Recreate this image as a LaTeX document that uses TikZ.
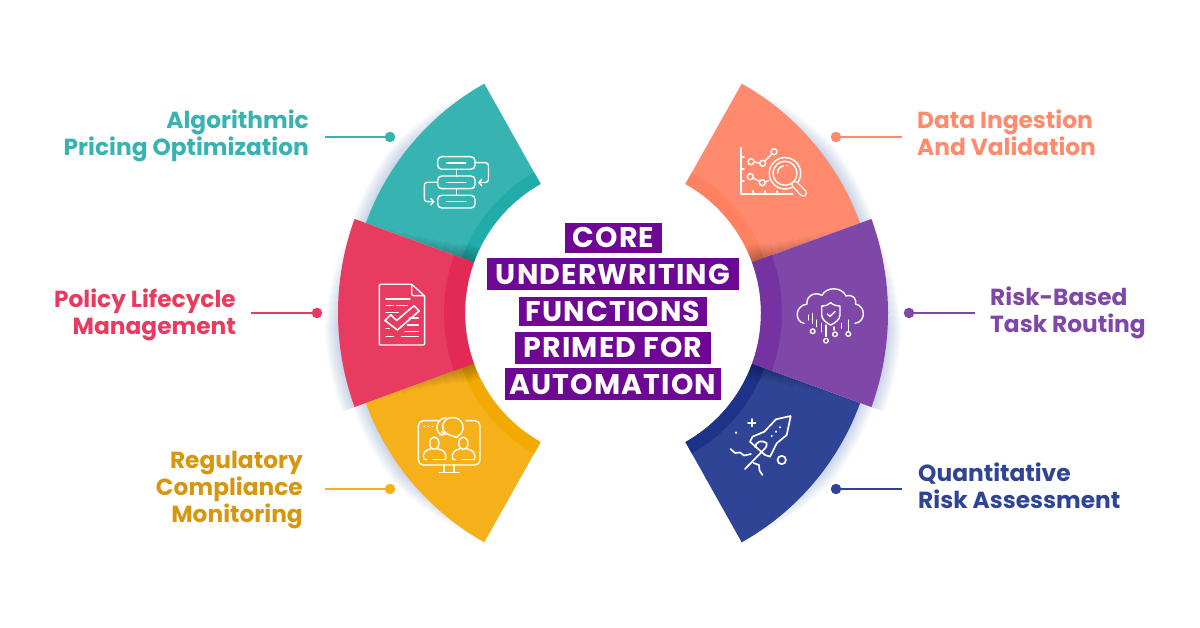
\documentclass[tikz,border=0pt]{standalone}
\usepackage{fontspec}
\setmainfont{Poppins}
\usetikzlibrary{arrows.meta}
\definecolor{tealA}{HTML}{37B3B1}\definecolor{tealB}{HTML}{21ACAA}
\definecolor{pinkA}{HTML}{E83B60}\definecolor{pinkB}{HTML}{E32A54}
\definecolor{yelA}{HTML}{F5B01A}\definecolor{yelB}{HTML}{F2A900}\definecolor{yelT}{HTML}{D6970F}
\definecolor{oraA}{HTML}{FF8A6E}\definecolor{oraB}{HTML}{FF8160}
\definecolor{purA}{HTML}{7F47A8}\definecolor{purB}{HTML}{7433A0}
\definecolor{bluA}{HTML}{2F4494}\definecolor{bluB}{HTML}{1D3289}
\definecolor{boxP}{HTML}{6F0795}\definecolor{shadowC}{HTML}{4A70C0}
\newcommand{\segpath}[4]{(#1:#3pt) arc[start angle=#1,end angle=#2,radius=#3pt] -- (#2:#4pt) arc[start angle=#2,end angle=#1,radius=#4pt] -- cycle}
% outer soft shadow: start, end, outer radius
\newcommand{\outshadow}[3]{%
  \foreach \w in {2,4,...,28}{%
    \draw[shadowC,opacity=0.018,line width=\w pt]
      ({#1+(#2-#1)*(\w/50)}:#3pt) arc[start angle={#1+(#2-#1)*(\w/50)},end angle=#2,radius=#3pt];}}
% full segment: start, end, R, band radius, colour, band colour, angle of the neighbour casting a shadow
\newcommand{\segm}[7]{%
  \fill[#5] \segpath{#1}{#2}{#3}{148};
  \fill[#6] \segpath{#1}{#2}{#4}{148};
  \begin{scope}
    \clip \segpath{#1}{#2}{#3}{148};
    \foreach \w/\rr in {4/240,8/225,12/210,16/195,20/182,24/172,28/165,32/160}{%
      \draw[black,opacity=0.035,line width=\w pt] (#7:146pt) -- (#7:\rr pt);}
  \end{scope}}
\tikzset{
  seglabel/.style={font=\fontsize{23.3}{27}\selectfont\bfseries,inner sep=0pt},
  titlebox/.style={fill=boxP,text=white,inner sep=0pt,text height=20pt,text depth=0pt,
     font=\fontsize{28.5}{30}\selectfont\bfseries\addfontfeature{LetterSpace=4}},
  dot/.style={circle,fill,inner sep=0pt,minimum size=10.5pt},
  lead/.style={line width=2pt},
  ico/.style={draw=white,line width=1.4pt,line cap=round,line join=round},
  barb/.style={-{Straight Barb[length=3pt,width=7pt,line width=1.4pt]}}
}
\begin{document}
\begin{tikzpicture}[x=1pt,y=1pt]
\useasboundingbox (0,0) rectangle (1200,627);
\fill[white] (0,0) rectangle (1200,627);
\begin{scope}[shift={(0,627)},yscale=-1]
% ------- segments
\begin{scope}[shift={(613,313)}]
  \outshadow{-119.3}{-160}{263}
  \outshadow{-60.7}{-20}{263}
  \outshadow{119.3}{160}{263}
  \outshadow{60.7}{20}{263}
  \outshadow{-160}{-200}{275}
  \outshadow{-20}{20}{275}
  \segm{-119.3}{-160}{263}{161}{tealA}{tealB}{-160}
  \segm{-60.7}{-20}{263}{161}{oraA}{oraB}{-20}
  \segm{119.3}{160}{263}{161}{yelA}{yelB}{160}
  \segm{60.7}{20}{263}{161}{bluA}{bluB}{20}
  \fill[pinkA] \segpath{-160}{-200}{275}{148};
  \fill[pinkB] \segpath{-160}{-200}{169}{148};
  \fill[purA] \segpath{-20}{20}{275}{148};
  \fill[purB] \segpath{-20}{20}{169}{148};
\end{scope}
% ------- title
\node[titlebox,minimum width=96.5pt,minimum height=30.5pt] (t1) at (613.5,238) {CORE};
\node[titlebox,minimum width=252.5pt,minimum height=32pt] (t2) at (613,274.3) {UNDERWRITING};
\node[titlebox,minimum width=188pt,minimum height=29.5pt] (t3) at (613,311.3) {FUNCTIONS};
\node[titlebox,minimum width=196.5pt,minimum height=32pt] (t4) at (613,347.7) {PRIMED FOR};
\node[titlebox,minimum width=215.5pt,minimum height=32pt] (t5) at (613,384.3) {AUTOMATION};
% ------- labels
\node[seglabel,tealA,align=right,anchor=east] (lalg) at (309,136) {Algorithmic\\Pricing Optimization};
\node[seglabel,pinkA,align=right,anchor=east] (lpol) at (236,315) {Policy Lifecycle\\Management};
\node[seglabel,yelT,align=right,anchor=east] (lreg) at (303,490) {Regulatory\\Compliance\\Monitoring};
\node[seglabel,oraA,align=left,anchor=west] (ldat) at (917,133) {Data Ingestion\\And Validation};
\node[seglabel,purA,align=left,anchor=west] (lrsk) at (990,313) {Risk-Based\\Task Routing};
\node[seglabel,bluA,align=left,anchor=west] (lqnt) at (918,486) {Quantitative\\Risk Assessment};
% ------- connectors
\node[dot,tealA] (da) at (390,137) {}; \coordinate (ca) at (325,137); \draw[lead,tealA] (ca) -- (da);
\node[dot,pinkA] (db) at (317,313) {}; \coordinate (cb) at (251,313); \draw[lead,pinkA] (cb) -- (db);
\node[dot,yelA] (dc) at (390,489) {}; \coordinate (cc) at (325,489); \draw[lead,yelA] (cc) -- (dc);
\node[dot,oraA] (dd) at (836,137) {}; \coordinate (cd) at (902,137); \draw[lead,oraA] (cd) -- (dd);
\node[dot,purA] (de) at (909,313) {}; \coordinate (ce) at (975,313); \draw[lead,purA] (ce) -- (de);
\node[dot,bluA] (df) at (836,489) {}; \coordinate (cf) at (902,489); \draw[lead,bluA] (cf) -- (df);
% ------- icon: flow chart
\begin{scope}[ico]
  \draw[rounded corners=4pt] (437.7,156.7) rectangle (475,169.3);
  \draw[rounded corners=4pt] (437.7,176) rectangle (475,188.7);
  \draw[rounded corners=4pt] (437.7,195.3) rectangle (475,208);
  \draw (446.7,163) -- (465.7,163); \draw (446.7,182.3) -- (465.7,182.3); \draw (446.7,201.7) -- (465.7,201.7);
  \draw (456.3,169.3) -- (456.3,176); \draw (456.3,188.7) -- (456.3,195.3);
  \draw[barb,rounded corners=3pt] (475,162.7) -- (488.5,162.7) -- (488.5,182.5) -- (478,182.5);
  \draw[barb,rounded corners=3pt] (437.7,182.3) -- (424.3,182.3) -- (424.3,201.7) -- (434.5,201.7);
\end{scope}
% ------- icon: document
\begin{scope}[ico]
  \draw[rounded corners=1pt] (411.7,284.3) -- (379.3,284.3) -- (379.3,345) -- (424.6,345) -- (424.6,296) -- cycle;
  \draw[rounded corners=2pt] (411.7,284.3) -- (411.7,295.7) -- (424.6,295.7);
  \draw (386,299) -- (410,299); \draw (386,305.7) -- (393.3,305.7); \draw (396.7,305.7) -- (407.3,305.7); \draw (386,312.3) -- (398.3,312.3);
  \draw[line width=1.6pt] (385,320.5) -- (390.7,314.8) -- (396.7,320.5) -- (414,305.7) -- (419.3,311) -- (397.3,330) -- cycle;
  \draw (409.3,318) -- (418.3,318); \draw (407.3,325) -- (418.3,325);
  \draw (386,328.3) -- (389.3,328.3); \draw (405,331.5) -- (418.3,331.5);
  \draw (386,336.5) -- (393.3,336.5); \draw (401.7,336.5) -- (418.3,336.5);
\end{scope}
% ------- icon: video call
\begin{scope}[ico]
  \draw[rounded corners=5pt] (438,420.7) -- (418.3,420.7) -- (418.3,465) -- (480,465) -- (480,420.7) -- (466,420.7);
  \draw (424,426.7) -- (424.5,426.7); \draw (428,426.7) -- (428.5,426.7); \draw (432,426.7) -- (432.5,426.7);
  \draw (444,465) -- (444,472.3); \draw (454,465) -- (454,472.3); \draw (439.3,472.3) -- (459,472.3);
  \draw (458,436) .. controls (466,432) and (465,418) .. (452.7,417.5)
        .. controls (441,417.5) and (439,432) .. (449.5,435) -- (456.7,437.5) -- cycle;
  \draw (446,417.5) .. controls (436,419) and (434,431) .. (441,434.5);
  \draw (441.5,431.5) -- (445,434.5) -- (440,435);
  \foreach \dx in {0,29}{
    \begin{scope}[xshift=\dx pt]
      \draw (434.3,443.3) ellipse[x radius=4.6pt,y radius=6.3pt];
      \draw (424,459.5) .. controls (422,452) and (426,450) .. (431,448.8);
      \draw (437.6,448.8) .. controls (443,450) and (447,452) .. (445.5,459.5);
      \draw (424,459.5) -- (426.5,459.5); \draw (433,459.5) -- (445.5,459.5);
    \end{scope}}
\end{scope}
% ------- icon: chart and magnifier
\begin{scope}[ico]
  \draw (741,147.7) -- (741,194) -- (792.7,194);
  \foreach \y in {157,169,181}{\draw (741,\y) -- (744,\y);}
  \foreach \x in {753,765,777}{\draw (\x,194) -- (\x,191);}
  \draw (751,161.7) circle[radius=3pt]; \draw (762.7,163.3) circle[radius=3pt]; \draw (774,151.7) circle[radius=3pt];
  \draw (750.3,176.7) circle[radius=3pt]; \draw (762.3,182.7) circle[radius=3pt];
  \draw (754,162) -- (759.7,163); \draw (764.8,161.1) -- (771.9,153.9);
  \draw (753,178) -- (759.6,181.4); \draw (765.3,182.3) -- (768.5,180.5);
  \draw (785,173.3) circle[radius=15.7pt]; \draw (785,173.3) circle[radius=12pt];
  \draw (777.5,173.5) .. controls (777.5,169) and (780,166.5) .. (783.5,166); \draw (787,165.8) -- (787.2,165.8);
  \draw[line width=7.4pt] (795,184.5) -- (803.3,193);
  \draw[oraA,line width=4.8pt] (795,184.5) -- (803.3,193);
\end{scope}
% ------- icon: cloud and shield
\begin{scope}[ico]
  \draw (804,323.3) .. controls (795,322) and (794,306) .. (807,304)
        .. controls (806,296) and (815,291) .. (822,295.5)
        .. controls (826,286.5) and (842,286.5) .. (846,296)
        .. controls (853,294) and (857,299) .. (855.5,304)
        .. controls (866,306) and (866,322) .. (855,323.3);
  \draw (821.7,306) .. controls (826,306) and (829,304.5) .. (830.7,302.7)
        .. controls (832.5,304.5) and (836,306) .. (840,306) -- (840,315)
        .. controls (840,319.5) and (835,323) .. (830.7,325)
        .. controls (826.5,323) and (821.7,319.5) .. (821.7,315) -- cycle;
  \draw (827.3,314) -- (830,316.3) -- (835,311.7);
  \draw (808.3,315) -- (808.3,320); \draw (812.5,313.5) -- (812.5,323.5); \draw (816.7,320) -- (816.7,326.7);
  \draw (821.7,323.3) -- (821.7,331.7); \draw (826,325) -- (826,336.5); \draw (834,327) -- (834,330);
  \draw (841.7,323.5) -- (841.7,328.3); \draw (848.3,320) -- (848.3,330.5);
  \draw (812.7,331.3) circle[radius=2.3pt]; \draw (826,340.7) circle[radius=2.3pt];
  \draw (835,334.3) circle[radius=2.3pt]; \draw (848.3,334) circle[radius=2.3pt];
\end{scope}
% ------- icon: rocket
\begin{scope}[ico,line width=1.7pt]
  \draw (790.7,416) -- (776,419.3) -- (764.3,431.7) -- (752.5,436.7) -- (750,441.7) -- (765,455) -- (770,456.7) -- (776.7,443.3) -- (786.7,435) -- cycle;
  \draw (755,447) .. controls (756,441.5) and (762,439.5) .. (766.5,443) .. controls (767.5,446) and (765,449) .. (763,450.5) -- (745,469);
  \draw (730.5,449) -- (735,453) -- (740,452.5) -- (744,455.5) -- (751,454);
  \draw (753.5,463) -- (759,465) -- (759.5,470.5) -- (762.5,475);
  \draw (751.7,419) -- (751.7,426.4); \draw (748,422.7) -- (755.4,422.7);
  \draw (781.7,460) circle[radius=4.2pt];
\end{scope}
\fill[white] (736,432.7) circle[radius=1.3pt];
\fill[white] (771.7,436) circle[radius=1.2pt];
\fill[white] (776,431.7) circle[radius=1.2pt];
\fill[white] (780,427.3) circle[radius=1.2pt];
\end{scope}
\end{tikzpicture}
\end{document}
